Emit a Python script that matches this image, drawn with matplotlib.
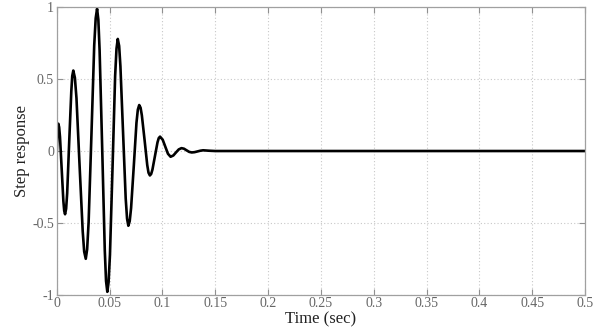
import matplotlib
matplotlib.use("Agg")
import matplotlib.pyplot as plt

# Step response (time in s, response)
time_s = [0.0000, 0.0007, 0.0014, 0.0022, 0.0030, 0.0046, 0.0062, 0.0070,
          0.0078, 0.0088, 0.0098, 0.0117, 0.0137, 0.0146, 0.0156, 0.0171,
          0.0186, 0.0215, 0.0245, 0.0259, 0.0274, 0.0287, 0.0301, 0.0328,
          0.0354, 0.0368, 0.0381, 0.0393, 0.0405, 0.0430, 0.0454, 0.0466,
          0.0478, 0.0490, 0.0503, 0.0528, 0.0552, 0.0565, 0.0577, 0.0590,
          0.0602, 0.0627, 0.0652, 0.0665, 0.0677, 0.0690, 0.0703, 0.0729,
          0.0754, 0.0767, 0.0780, 0.0793, 0.0805, 0.0831, 0.0856, 0.0868,
          0.0881, 0.0893, 0.0905, 0.0929, 0.0953, 0.0965, 0.0977,
          0.1002, 0.1027, 0.1052, 0.1077,
          0.1103, 0.1128, 0.1154, 0.1180,
          0.1204, 0.1228, 0.1253, 0.1277,
          0.1304, 0.1331, 0.1358, 0.1385,
          0.1443, 0.1500, 0.5000]
response = [0.000, 0.130, 0.190, 0.166, 0.098, -0.125, -0.348, -0.416,
            -0.440, -0.402, -0.294, 0.060, 0.414, 0.522, 0.560, 0.510,
            0.368, -0.095, -0.558, -0.700, -0.750, -0.684, -0.495, 0.120,
            0.735, 0.924, 0.990, 0.915, 0.701, 0.005, -0.691, -0.905,
            -0.980, -0.913, -0.722, -0.100, 0.522, 0.713, 0.780, 0.731,
            0.590, 0.130, -0.330, -0.471, -0.520, -0.488, -0.397, -0.100,
            0.197, 0.288, 0.320, 0.301, 0.248, 0.075, -0.098, -0.151,
            -0.170, -0.160, -0.130, -0.035, 0.060, 0.090, 0.100,
            0.079, 0.030, -0.019, -0.040,
            -0.031, -0.010, 0.011, 0.020,
            0.016, 0.005, -0.006, -0.010,
            -0.008, -0.003, 0.002, 0.005,
            0.002, 0.000, 0.000]

x_ticks = [0, 0.05, 0.1, 0.15, 0.2, 0.25, 0.3, 0.35, 0.4, 0.45, 0.5]
x_tick_labels = ["0", "0.05", "0.1", "0.15", "0.2", "0.25", "0.3", "0.35", "0.4", "0.45", "0.5"]
y_ticks = [-1, -0.5, 0, 0.5, 1]
y_tick_labels = ["-1", "-0.5", "0", "0.5", "1"]

plt.rcParams['font.family'] = ['Liberation Serif', 'DejaVu Serif']

fig = plt.figure(figsize=(6.0, 3.33), dpi=100)
ax = fig.add_axes([0.0947, 0.115, 0.8803, 0.863])

ax.plot(time_s, response, color='black', lw=1.9, solid_joinstyle='round')

ax.set_xlim(0, 0.5)
ax.set_ylim(-1, 1)
ax.set_xticks(x_ticks)
ax.set_xticklabels(x_tick_labels)
ax.set_yticks(y_ticks)
ax.set_yticklabels(y_tick_labels)

ax.grid(True, linestyle=(0, (1, 2)), color='#c8c8c8', linewidth=0.8)
for s in ax.spines.values():
    s.set_color('#a0a0a0')
    s.set_linewidth(0.9)
ax.tick_params(direction='in', top=True, right=True, length=4, width=0.8,
               color='#909090', labelcolor='#666666', labelsize=10, pad=2)

ax.set_xlabel('Time (sec)', fontsize=12, color='#222222', labelpad=1)
ax.set_ylabel('Step response', fontsize=12, color='#222222', labelpad=2)

fig.savefig('out.png', dpi=100)
